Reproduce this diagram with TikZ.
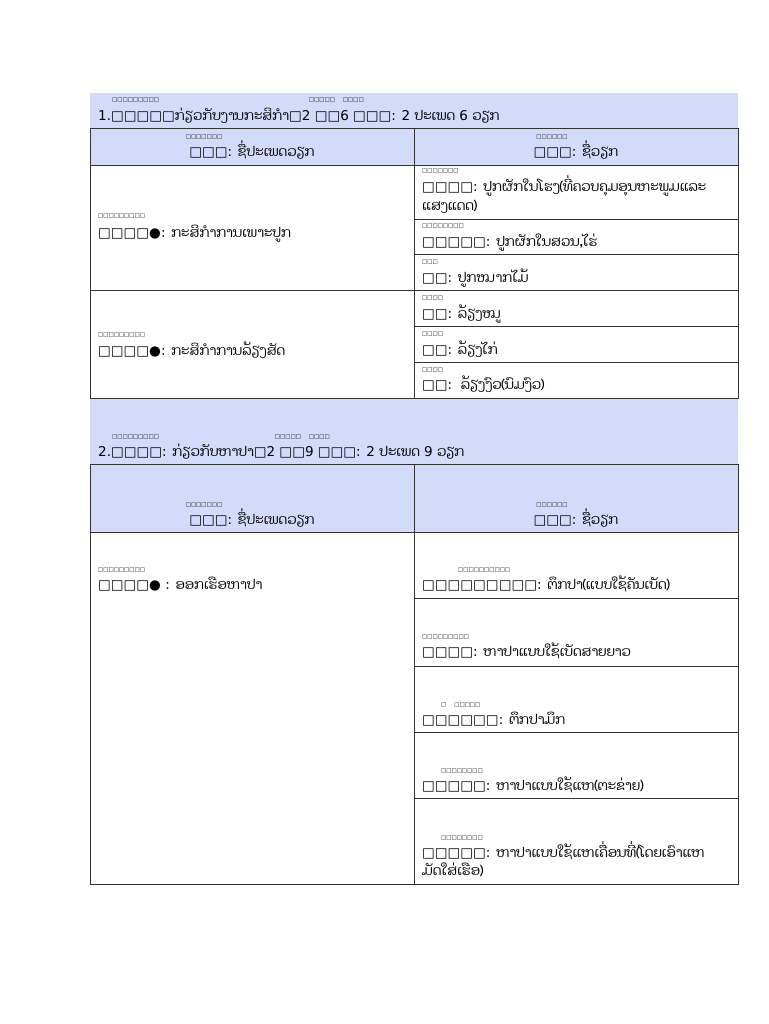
\documentclass[tikz,border=0pt]{standalone}
\usepackage{fontspec}
\setmainfont{DejaVu Sans}
\newfontfamily\lao[Script=Lao]{Dhyana}
\definecolor{hb}{HTML}{D2DCFA}
\definecolor{ln}{HTML}{333333}
\newcommand{\lo}[1]{{\lao #1}}
\begin{document}
\begin{tikzpicture}[x=1pt,y=-1pt,
  txt/.style={inner sep=0pt,anchor=base west,font=\fontsize{13.5}{17}\selectfont},
  ctxt/.style={txt,anchor=base},
  rb/.style={inner sep=0pt,anchor=base west,font=\fontsize{5.5}{6}\selectfont},
  cell/.style={draw=ln,line width=0.8pt}]
\useasboundingbox (0,0) rectangle (768,1024);
% fills
\fill[hb] (90,93) rectangle (738,165);
\fill[hb] (90,398) rectangle (738,532);
% grid table 1
\draw[cell] (90,128) rectangle (738,398);
\draw[cell] (90,165) -- (738,165) (414,128) -- (414,398) (90,290) -- (738,290);
\draw[cell] (414,219) -- (738,219) (414,254) -- (738,254) (414,326) -- (738,326) (414,362) -- (738,362);
% table 2
\draw[cell] (90,464) rectangle (738,884);
\draw[cell] (90,532) -- (738,532) (414,464) -- (414,884);
\draw[cell] (414,598) -- (738,598) (414,666) -- (738,666) (414,732) -- (738,732) (414,798) -- (738,798);
% table 1 texts
\node[txt] (t1) at (98,121) {1.□□□□□\lo{ກ່ຽວກັບງານກະສິກຳ}□2 □□6 □□□: 2 \lo{ປະເພດ} 6 \lo{ວຽກ}};
\node[rb] (t1r) at (112,102) {□□□□□□□□□\hspace{150pt}□□□□□\hspace{8pt}□□□□};
\node[ctxt] (h1) at (252,157) {□□□: \lo{ຊື່ປະເພດວຽກ}};
\node[rb,anchor=base] (h1r) at (204,139) {□□□□□□□};
\node[ctxt] (h2) at (576,157) {□□□: \lo{ຊື່ວຽກ}};
\node[rb,anchor=base] (h2r) at (552,139) {□□□□□□};
\node[txt] (c1) at (98,237) {□□□□●: \lo{ກະສິກຳການເພາະປູກ}};
\node[rb] (c1r) at (98,218) {□□□□□□□□□};
\node[txt] (r1) at (422,192) {□□□□: \lo{ປູກຜັກໃນໂຮງ(ທີ່ຄວບຄຸມອຸນຫະພູມແລະ}};
\node[txt] (r1b) at (422,211) {\lo{ແສງແດດ)}};
\node[rb] (r1r) at (422,173) {□□□□□□□};
\node[txt] (r2) at (422,246) {□□□□□: \lo{ປູກຜັກໃນສວນ,ໄຮ່}};
\node[rb] (r2r) at (422,228) {□□□□□□□□};
\node[txt] (r3) at (422,282) {□□: \lo{ປູກໝາກໄມ້}};
\node[rb] (r3r) at (422,263) {□□□};
\node[txt] (c2) at (98,355) {□□□□●: \lo{ກະສິກຳການລ້ຽງສັດ}};
\node[rb] (c2r) at (98,336) {□□□□□□□□□};
\node[txt] (r4) at (422,318) {□□: \lo{ລ້ຽງໝູ}};
\node[rb] (r4r) at (422,299) {□□□□};
\node[txt] (r5) at (422,354) {□□: \lo{ລ້ຽງໄກ່}};
\node[rb] (r5r) at (422,335) {□□□□};
\node[txt] (r6) at (422,389) {□□:\ \ \lo{ລ້ຽງງົວ(ນົມງົວ)}};
\node[rb] (r6r) at (422,371) {□□□□};
% table 2 texts
\node[txt] (t2) at (98,456) {2.□□□□: \lo{ກ່ຽວກັບຫາປາ}□2 □□9 □□□: 2 \lo{ປະເພດ} 9 \lo{ວຽກ}};
\node[rb] (t2r) at (112,438) {□□□□□□□□□\hspace{116pt}□□□□□\hspace{8pt}□□□□};
\node[ctxt] (h3) at (252,524) {□□□: \lo{ຊື່ປະເພດວຽກ}};
\node[rb,anchor=base] (h3r) at (204,506) {□□□□□□□};
\node[ctxt] (h4) at (576,524) {□□□: \lo{ຊື່ວຽກ}};
\node[rb,anchor=base] (h4r) at (552,506) {□□□□□□};
\node[txt] (c3) at (98,589) {□□□□● : \lo{ອອກເຮືອຫາປາ}};
\node[rb] (c3r) at (98,571) {□□□□□□□□□};
\node[txt] (s1) at (422,589) {□□□□□□□□□: \lo{ຕຶກປາ(ແບບໃຊ້ຄັນເບັດ)}};
\node[rb] (s1r) at (458,571) {□□□□□□□□□□};
\node[txt] (s2) at (422,656) {□□□□: \lo{ຫາປາແບບໃຊ້ເບັດສາຍຍາວ}};
\node[rb] (s2r) at (422,638) {□□□□□□□□□};
\node[txt] (s3) at (422,724) {□□□□□□: \lo{ຕຶກປາມຶກ}};
\node[rb] (s3r) at (441,706) {□\hspace{8pt}□□□□□};
\node[txt] (s4) at (422,790) {□□□□□: \lo{ຫາປາແບບໃຊ້ແຫ(ຕະຂ່າຍ)}};
\node[rb] (s4r) at (441,772) {□□□□□□□□};
\node[txt] (s5) at (422,857) {□□□□□: \lo{ຫາປາແບບໃຊ້ແຫເຄື່ອນທີ່(ໂດຍເອົາແຫ}};
\node[txt] (s5b) at (422,875) {\lo{ມັດໃສ່ເຮືອ)}};
\node[rb] (s5r) at (441,839) {□□□□□□□□};
\end{tikzpicture}
\end{document}
